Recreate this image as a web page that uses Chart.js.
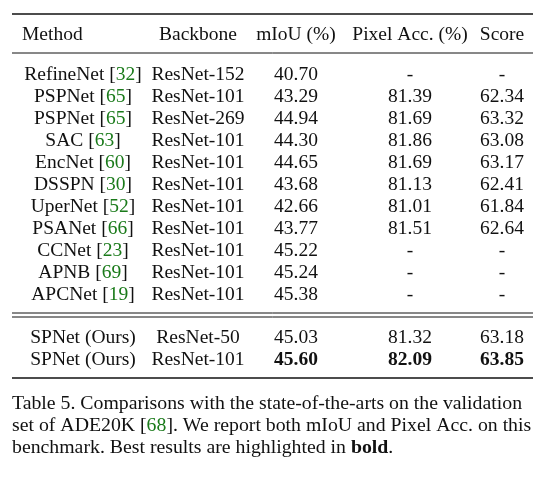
<!DOCTYPE html>
<html><head><meta charset="utf-8">
<script src="https://cdn.jsdelivr.net/npm/chart.js@4.4.0/dist/chart.umd.min.js"></script>
<style>html,body{margin:0;padding:0;background:#fff}#wrap{width:545px;height:483px}</style>
</head><body><div id="wrap"><canvas id="c"></canvas></div>
<script>
const headers = ["Method","Backbone","mIoU (%)","Pixel Acc. (%)","Score"];
const methods = ["RefineNet [32]","PSPNet [65]","PSPNet [65]","SAC [63]","EncNet [60]","DSSPN [30]","UperNet [52]","PSANet [66]","CCNet [23]","APNB [69]","APCNet [19]"];
const backbones = ["ResNet-152","ResNet-101","ResNet-269","ResNet-101","ResNet-101","ResNet-101","ResNet-101","ResNet-101","ResNet-101","ResNet-101","ResNet-101"];
const miou = ["40.70","43.29","44.94","44.30","44.65","43.68","42.66","43.77","45.22","45.24","45.38"];
const pixacc = ["-","81.39","81.69","81.86","81.69","81.13","81.01","81.51","-","-","-"];
const score = ["-","62.34","63.32","63.08","63.17","62.41","61.84","62.64","-","-","-"];
const oursMethods = ["SPNet (Ours)","SPNet (Ours)"];
const oursBackbones = ["ResNet-50","ResNet-101"];
const oursMiou = ["45.03","45.60"];
const oursPix = ["81.32","82.09"];
const oursScore = ["63.18","63.85"];
const captionLines = [
 "Table 5. Comparisons with the state-of-the-arts on the validation",
 "set of ADE20K [68]. We report both mIoU and Pixel Acc. on this",
 "benchmark. Best results are highlighted in **bold**."];

const colX = [83,198,296,410,502];
const GREEN = "#1a7a1a";
function drawRich(ctx, str, x, y, align, bold, size){
  const parts = []; const re = /(\[\d+\])|(\*\*[^*]+\*\*)/g; let last=0, m;
  while((m=re.exec(str))){ if(m.index>last) parts.push({t:str.slice(last,m.index)});
    if(m[1]) { parts.push({t:"["}); parts.push({t:m[1].slice(1,-1),g:1}); parts.push({t:"]"}); }
    else parts.push({t:m[2].slice(2,-2),b:1});
    last=re.lastIndex; }
  if(last<str.length) parts.push({t:str.slice(last)});
  const f = b => (b?"bold ":"")+size+"px 'Liberation Serif'";
  let w=0; parts.forEach(p=>{ctx.font=f(bold||p.b); p.w=ctx.measureText(p.t).width; w+=p.w;});
  let cx = align==="center"? x-w/2 : x;
  ctx.textBaseline="middle"; ctx.textAlign="left";
  parts.forEach(p=>{ctx.font=f(bold||p.b); ctx.fillStyle=p.g?GREEN:"#111"; ctx.fillText(p.t,cx,y); cx+=p.w;});
}
const tablePlugin = {id:"tbl", afterDraw(chart){
  const ctx=chart.ctx, xs=chart.scales.x, ys=chart.scales.y;
  const X=v=>xs.getPixelForValue(v), Y=v=>ys.getPixelForValue(v);
  ctx.save();
  const hline=(y,w)=>{ctx.strokeStyle="#111";ctx.lineWidth=w;ctx.beginPath();ctx.moveTo(X(12),y);ctx.lineTo(X(533),y);ctx.stroke();};
  hline(Y(14),1.6); hline(Y(53),1); hline(Y(313),1); hline(Y(317),1); hline(Y(378),1.6);
  const TS=19.5;
  drawRich(ctx,headers[0],X(22),Y(35),"left",false,TS);
  for(let c=1;c<5;c++) drawRich(ctx,headers[c],X(colX[c]),Y(35),"center",false,TS);
  methods.forEach((m,i)=>{const y=Y(75+i*22);
    [m,backbones[i],miou[i],pixacc[i],score[i]].forEach((t,c)=>drawRich(ctx,t,X(colX[c]),y,"center",false,TS));});
  oursMethods.forEach((m,i)=>{const y=Y(338+i*22);
    [m,oursBackbones[i],oursMiou[i],oursPix[i],oursScore[i]].forEach((t,c)=>drawRich(ctx,t,X(colX[c]),y,"center",i===1&&c>=2,TS));});
  captionLines.forEach((l,i)=>drawRich(ctx,l,X(12),Y(404+i*22),"left",false,19.8));
  ctx.restore();
}};
new Chart(document.getElementById("c"),{type:"scatter",data:{datasets:[{data:[]}]},
 options:{responsive:true,maintainAspectRatio:false,animation:false,layout:{padding:0},
  plugins:{legend:{display:false},tooltip:{enabled:false}},
  scales:{x:{type:"linear",min:0,max:545,display:false},y:{type:"linear",min:0,max:483,reverse:true,display:false}}},
 plugins:[tablePlugin]});
</script></body></html>
